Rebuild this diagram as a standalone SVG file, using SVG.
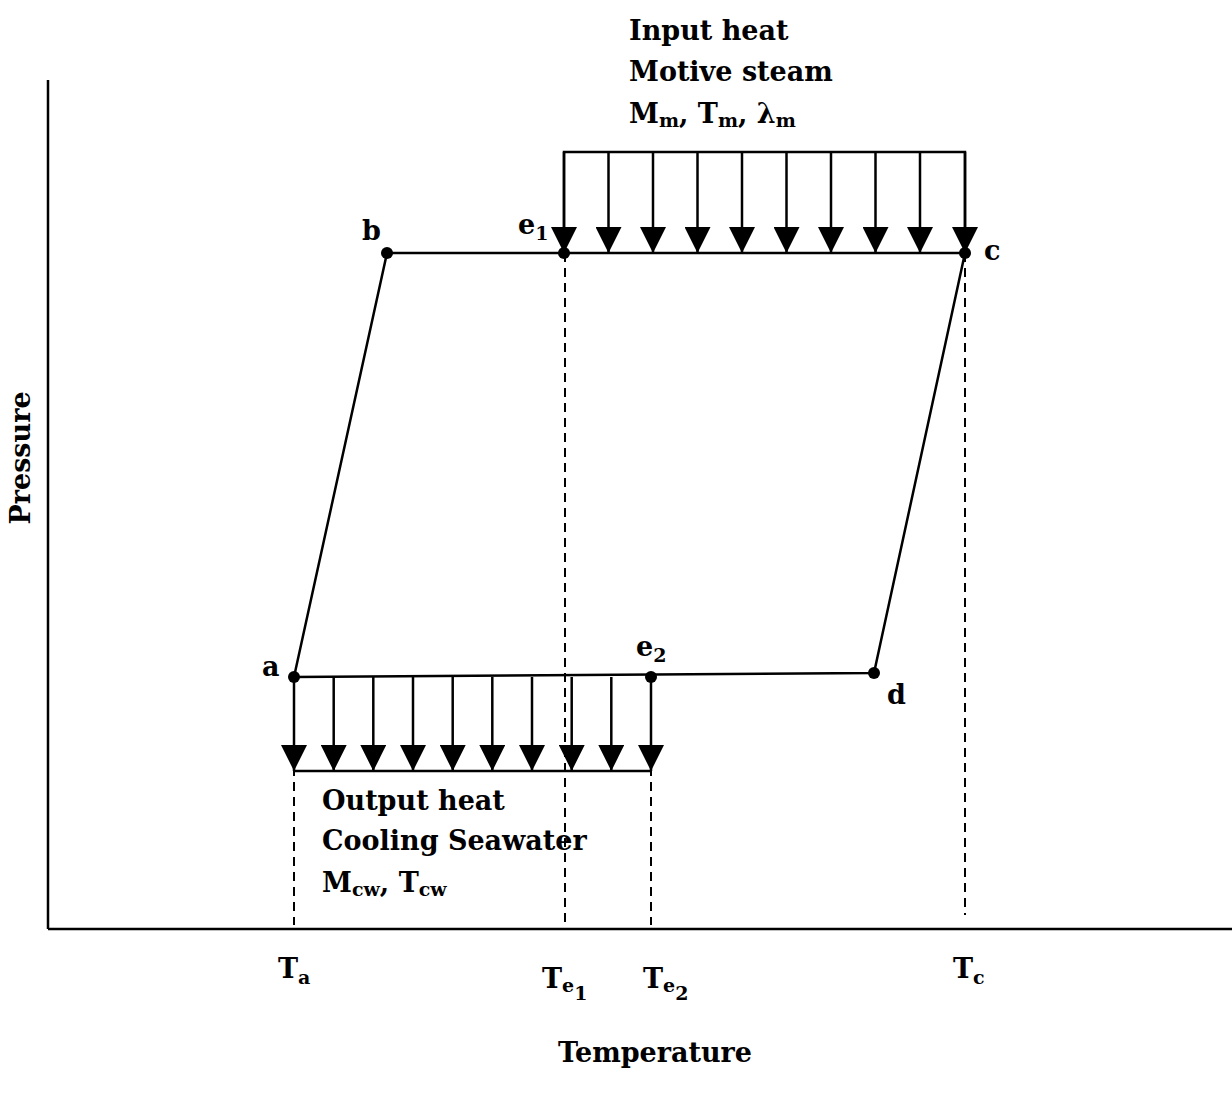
<svg xmlns="http://www.w3.org/2000/svg" width="1232" height="1098" viewBox="0 0 1232 1098">
<defs>
<marker id="ah" viewBox="0 0 26 26" refX="26" refY="13" markerWidth="26" markerHeight="26" markerUnits="userSpaceOnUse" orient="auto">
<path d="M0,0 L26,13 L0,26 Z" fill="#000"/>
</marker>
</defs>
<style>
text{font-family:"DejaVu Serif","Liberation Serif",serif;font-weight:bold;font-size:27px;fill:#000}
.s{font-size:19px}
.l{stroke:#000;stroke-width:2.5;fill:none}
.d{stroke:#000;stroke-width:2;stroke-dasharray:9,6;fill:none}
.a{stroke:#000;stroke-width:2.5;marker-end:url(#ah)}
</style>
<rect width="1232" height="1098" fill="#fff"/>
<g id="axes">
<line class="l" x1="48" y1="80" x2="48" y2="929"/>
<line class="l" x1="48" y1="929" x2="1232" y2="929"/>
<text transform="translate(30,458) rotate(-90)" text-anchor="middle">Pressure</text>
<text x="655" y="1062" text-anchor="middle">Temperature</text>
</g>
<g id="connectors">
<polyline class="l" points="294,677 387,253 965,253 874,673 294,677"/>
<line class="d" x1="294" y1="677" x2="294" y2="925"/>
<line class="d" x1="565" y1="253" x2="565" y2="925"/>
<line class="d" x1="651" y1="677" x2="651" y2="925"/>
<line class="d" x1="965" y1="253" x2="965" y2="915"/>
</g>
<g id="input-heat">
<polyline class="l" points="564,253 564,152 965,152 965,253"/>
<line class="a" x1="564" y1="152" x2="564" y2="253"/>
<line class="a" x1="608.5" y1="152" x2="608.5" y2="253"/>
<line class="a" x1="653" y1="152" x2="653" y2="253"/>
<line class="a" x1="697.5" y1="152" x2="697.5" y2="253"/>
<line class="a" x1="742" y1="152" x2="742" y2="253"/>
<line class="a" x1="786.5" y1="152" x2="786.5" y2="253"/>
<line class="a" x1="831" y1="152" x2="831" y2="253"/>
<line class="a" x1="875.5" y1="152" x2="875.5" y2="253"/>
<line class="a" x1="920" y1="152" x2="920" y2="253"/>
<line class="a" x1="965" y1="152" x2="965" y2="253"/>
<text x="629" y="40">Input heat</text>
<text x="629" y="81">Motive steam</text>
<text x="629" y="123">M<tspan class="s" dy="4">m</tspan><tspan dy="-4">, T</tspan><tspan class="s" dy="4">m</tspan><tspan dy="-4">, λ</tspan><tspan class="s" dy="4">m</tspan></text>
</g>
<g id="output-heat">
<line class="l" x1="294" y1="771" x2="651" y2="771"/>
<line class="a" x1="294" y1="677" x2="294" y2="771"/>
<line class="a" x1="333.7" y1="677" x2="333.7" y2="771"/>
<line class="a" x1="373.3" y1="677" x2="373.3" y2="771"/>
<line class="a" x1="413" y1="677" x2="413" y2="771"/>
<line class="a" x1="452.7" y1="677" x2="452.7" y2="771"/>
<line class="a" x1="492.3" y1="677" x2="492.3" y2="771"/>
<line class="a" x1="532" y1="677" x2="532" y2="771"/>
<line class="a" x1="571.7" y1="677" x2="571.7" y2="771"/>
<line class="a" x1="611.3" y1="677" x2="611.3" y2="771"/>
<line class="a" x1="651" y1="677" x2="651" y2="771"/>
<text x="322" y="810">Output heat</text>
<text x="322" y="850">Cooling Seawater</text>
<text x="322" y="892">M<tspan class="s" dy="4">cw</tspan><tspan dy="-4">, T</tspan><tspan class="s" dy="4">cw</tspan></text>
</g>
<g id="points">
<circle cx="387" cy="253" r="6"/><text x="362" y="240">b</text>
<circle cx="564" cy="253" r="6"/><text x="518" y="234">e<tspan class="s" dy="6">1</tspan></text>
<circle cx="965" cy="253" r="6"/><text x="984" y="260">c</text>
<circle cx="294" cy="677" r="6"/><text x="262" y="676">a</text>
<circle cx="651" cy="677" r="6"/><text x="636" y="656">e<tspan class="s" dy="6">2</tspan></text>
<circle cx="874" cy="673" r="6"/><text x="887" y="704">d</text>
</g>
<g id="ticks">
<text x="278" y="978">T<tspan class="s" dy="6">a</tspan></text>
<text x="542" y="988">T<tspan class="s" dy="4">e</tspan><tspan class="s" font-size="15" dy="8">1</tspan></text>
<text x="643" y="988">T<tspan class="s" dy="4">e</tspan><tspan class="s" font-size="15" dy="8">2</tspan></text>
<text x="953" y="978">T<tspan class="s" dy="6">c</tspan></text>
</g>
</svg>
